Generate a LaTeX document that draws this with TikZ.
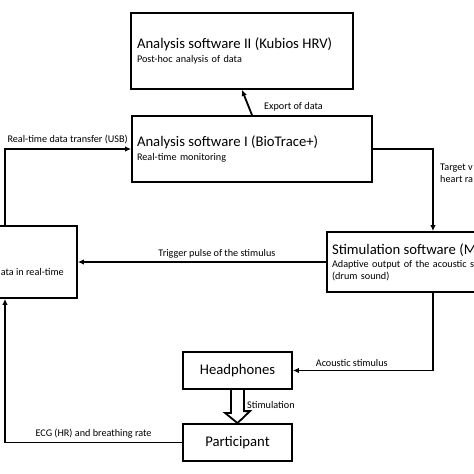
\documentclass[tikz,border=0pt]{standalone}
\usepackage{fontspec}
\setmainfont{Carlito}
\usepackage{tikz}
\usetikzlibrary{arrows.meta, positioning}

\newcommand{\titletxt}{\fontsize{14.7}{17}\selectfont}

\begin{document}
\begin{tikzpicture}[
  x=1pt, y=-1pt,
  box/.style={draw, line width=1.8pt, inner xsep=5pt, inner ysep=3pt, align=left, font=\fontsize{10.2}{12}\selectfont},
  lbl/.style={font=\fontsize{10.2}{12}\selectfont, inner sep=1pt},
  arrow/.style={-{Latex[length=6pt, width=5.5pt]}, line width=1.8pt}
]
  \clip (0,0) rectangle (474,474);

  \node[box, minimum width=222, minimum height=76, text width=210, inner xsep=6pt] (kubios) at (242,51)
    {{\titletxt Analysis software II (Kubios HRV)}\\[2pt]Post-hoc analysis of data};
  \node[box, minimum width=240, minimum height=66, text width=230] (biotrace) at (252,149)
    {{\titletxt Analysis software I (BioTrace+)}\\[2pt]Real-time monitoring};
  \node[box, minimum width=144, minimum height=72] (record) at (5,262) {};
  \node[lbl, anchor=east] (recordtxt) at (65,272) {ata in real-time};
  \node[box, minimum width=212, minimum height=60, text width=202] (stim) at (433,262)
    {{\titletxt Stimulation software (M}\\[1pt]Adaptive output of the acoustic st\\(drum sound)};
  \node[box, minimum width=109, minimum height=37, font=\titletxt] (phones) at (237.5,370.5) {Headphones};
  \node[box, minimum width=109, minimum height=37, font=\titletxt] (participant) at (237.5,442.5) {Participant};

  \draw[arrow] (biotrace.north) -- (kubios.south);
  \node[lbl, anchor=west] (exportlbl) at (263,107) {Export of data};

  \draw[arrow] (record.north) |- (biotrace.west);
  \node[lbl, anchor=south east] (usblbl) at (129,145) {Real-time data transfer (USB)};

  \draw[arrow] (biotrace.east) -| (stim.north);
  \node[lbl, anchor=north west, align=left] (targetlbl) at (439,163) {Target v\\heart ra};

  \draw[arrow] (stim.west) -- node[lbl, pos=0.44, above=2pt] (triggerlbl) {Trigger pulse of the stimulus} (record.east);

  \draw[arrow] (stim.south) |- node[lbl, pos=0.79, above=2pt] (acousticlbl) {Acoustic stimulus} (phones.east);

  % hollow arrow headphones -> participant
  \draw[line width=1.8pt, line join=miter]
    ([xshift=-6.5pt]phones.south) -- ++(0,23) -- ++(-6,0) -- (participant.north)
    -- ++(12.5,-12) -- ++(-6,0) -- ([xshift=6.5pt]phones.south);
  \node[lbl, anchor=west] (stimlbl) at (246,405) {Stimulation};

  \draw[arrow] (participant.west) -| node[lbl, pos=0.25, above=2pt] (ecglbl) {ECG (HR) and breathing rate} (record.south);
\end{tikzpicture}
\end{document}
